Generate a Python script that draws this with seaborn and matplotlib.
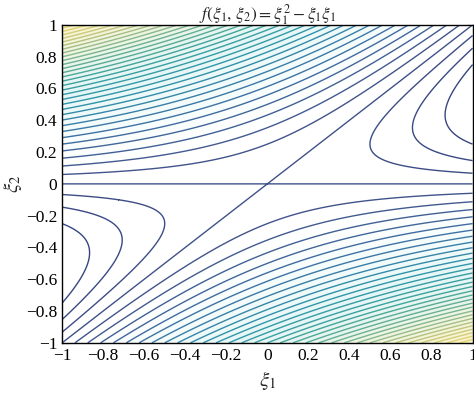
import matplotlib
matplotlib.use("Agg")
import matplotlib.pyplot as plt
import matplotlib.ticker as mticker
import seaborn as sns
import numpy as np

# grid of the two variables and the contour levels (step 1/16)
xi1 = np.linspace(-1, 1, 401)
xi2 = np.linspace(-1, 1, 401)
levels = np.arange(-0.25, 2.0 + 1e-9, 0.0625)
ticks = [-1, -0.8, -0.6, -0.4, -0.2, 0, 0.2, 0.4, 0.6, 0.8, 1]

# muted parula-like colours for the lines, and pale tints for the background
line_colors = ["#34427e", "#42558c", "#3f74a6", "#3194aa", "#3ca49e",
               "#74b48e", "#bec57e", "#eedb74"]
fill_colors = ["#ffffff", "#ffffff", "#f2fbfb", "#e4f6f6", "#e8f5ee",
               "#f3f4dc", "#fbf3c8"]

sns.set_style("ticks")
plt.rcParams["font.family"] = ["Liberation Serif", "DejaVu Serif"]
plt.rcParams["mathtext.fontset"] = "stix"

X1, X2 = np.meshgrid(xi1, xi2)
F = X2 ** 2 - X1 * X2

line_cmap = sns.blend_palette(line_colors, as_cmap=True)
fill_cmap = sns.blend_palette(fill_colors, as_cmap=True)

fig = plt.figure(figsize=(4.74, 3.95), dpi=100)
ax = fig.add_axes([0.131, 0.132, 0.866, 0.805])

ax.contourf(X1, X2, F, levels=levels, cmap=fill_cmap)
ax.contour(X1, X2, F, levels=levels, cmap=line_cmap, linewidths=1.0)

ax.set_xlim(-1, 1)
ax.set_ylim(-1, 1)
ax.set_xticks(ticks)
ax.set_yticks(ticks)
fmt = mticker.FuncFormatter(lambda v, p: f"{v:g}".replace("-", "\u2212"))
ax.xaxis.set_major_formatter(fmt)
ax.yaxis.set_major_formatter(fmt)
ax.tick_params(direction="in", top=True, right=True, length=5, width=0.8,
               labelsize=12.5, colors="black")
for s in ax.spines.values():
    s.set_linewidth(1.0)
    s.set_color("black")

ax.set_xlabel(r"$\xi_1$", fontsize=15, labelpad=4)
ax.set_ylabel(r"$\xi_2$", fontsize=15, labelpad=1)
ax.set_title(r"$f(\xi_1,\, \xi_2) = \xi_1^2 - \xi_1\xi_1$", fontsize=12.5, pad=4)

fig.savefig("out.png", dpi=100)
plt.close(fig)
